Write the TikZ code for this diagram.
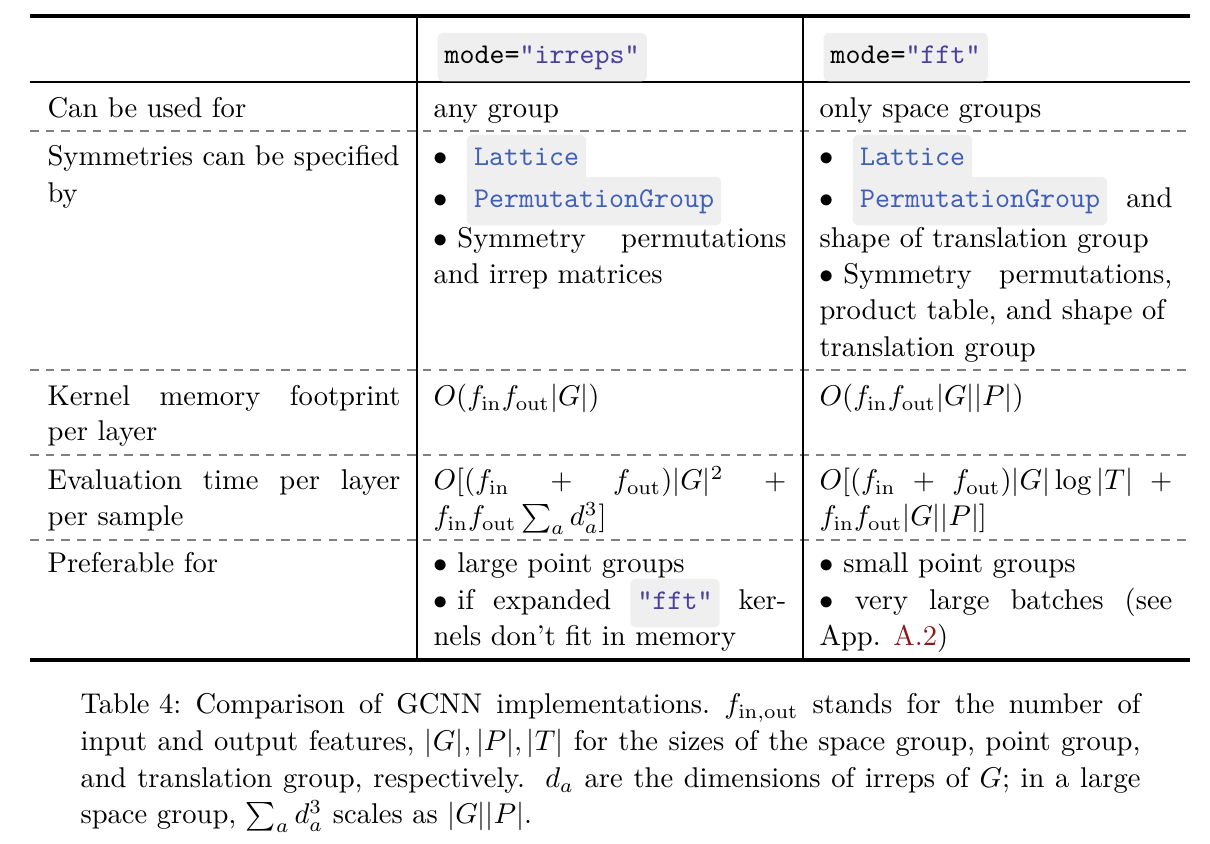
\documentclass[tikz,border=0pt]{standalone}
\usepackage{xcolor}
\definecolor{codebg}{HTML}{EFEFEF}
\definecolor{strc}{HTML}{4A3F9A}
\definecolor{clsc}{HTML}{4060B8}
\definecolor{refc}{HTML}{8B1A1A}
\newcommand\codebx[1]{\tikz[baseline=(cbx.base)]\node[fill=codebg,rounded corners=2pt,inner xsep=2.5pt,inner ysep=2.5pt,outer sep=0pt] (cbx) {\ttfamily\strut #1};}
\begin{document}
\begin{tikzpicture}[x=0.35pt,y=-0.35pt,
  tl/.style={anchor=base west,inner sep=0pt,text width=123.5pt,align=left},
  cl/.style={anchor=base west,inner sep=0pt},
  thick rule/.style={line width=1.2pt},
  dash rule/.style={gray,dashed,line width=0.4pt,dash pattern=on 3pt off 2.5pt},
  vrule/.style={line width=0.4pt}]
\useasboundingbox (0,0) rectangle (1210,844);
\draw[thick rule] (30,16) -- (1190,16);
\draw[line width=0.8pt] (30,82) -- (1190,82);
\draw[thick rule] (30,660) -- (1190,660);
\foreach \y in {131,370,455,540} \draw[dash rule] (30,\y) -- (1190,\y);
\draw[vrule] (417,16) -- (417,660);
\draw[vrule] (803,16) -- (803,660);
\begin{scope}[yshift=-0.7pt]
% header
\node[cl] (h2) at (437,62) {\codebx{mode=\textcolor{strc}{"irreps"}}};
\node[cl] (h3) at (823,62) {\codebx{mode=\textcolor{strc}{"fft"}}};
% row 1
\node[cl] (a1) at (47,116) {Can be used for};
\node[cl] (b1) at (433,116) {any group};
\node[cl] (c1) at (819,116) {only space groups};
% row 2
\node[cl] (a2a) at (47,164) {Symmetries can be specified};
\node[cl] (a2b) at (47,201) {by};
\node[cl] (b2a) at (433,164) {$\bullet$\ \ \codebx{\textcolor{clsc}{Lattice}}};
\node[cl] (b2b) at (433,206) {$\bullet$\ \ \codebx{\textcolor{clsc}{PermutationGroup}}};
\node[tl] (b2c) at (433,246) {$\bullet$\ Symmetry\hfill permutations};
\node[cl] (b2d) at (433,282) {and irrep matrices};
\node[cl] (c2a) at (819,164) {$\bullet$\ \ \codebx{\textcolor{clsc}{Lattice}}};
\node[tl] (c2b) at (819,206) {$\bullet$\ \ \codebx{\textcolor{clsc}{PermutationGroup}}\hfill and};
\node[cl] (c2c) at (819,246) {shape of translation group};
\node[tl] (c2d) at (819,282) {$\bullet$\ Symmetry\hfill permutations,};
\node[tl] (c2e) at (819,318) {product table, and shape of};
\node[cl] (c2f) at (819,355) {translation group};
% row 3
\node[tl] (a3a) at (47,404) {Kernel\hfill memory\hfill footprint};
\node[cl] (a3b) at (47,439) {per layer};
\node[cl] (b3) at (433,404) {$O(f_{\mathrm{in}}f_{\mathrm{out}}|G|)$};
\node[cl] (c3) at (819,404) {$O(f_{\mathrm{in}}f_{\mathrm{out}}|G||P|)$};
% row 4
\node[tl] (a4a) at (47,488) {Evaluation\hfill time\hfill per\hfill layer};
\node[cl] (a4b) at (47,524) {per sample};
\node[tl] (b4a) at (433,488) {$O[(f_{\mathrm{in}}$\hfill$+$\hfill$f_{\mathrm{out}})|G|^2$\hfill$+$};
\node[cl] (b4b) at (433,524) {$f_{\mathrm{in}}f_{\mathrm{out}}\sum_a d_a^3]$};
\node[tl] (c4a) at (819,488) {$O[(f_{\mathrm{in}}$\hfill$+$\hfill$f_{\mathrm{out}})|G|\log|T|$\hfill$+$};
\node[cl] (c4b) at (819,524) {$f_{\mathrm{in}}f_{\mathrm{out}}|G||P|]$};
% row 5
\node[cl] (a5) at (47,571) {Preferable for};
\node[cl] (b5a) at (433,571) {$\bullet$ large point groups};
\node[tl] (b5b) at (433,608) {$\bullet$\ if\hfill expanded\hfill\codebx{\textcolor{strc}{"fft"}}\hfill ker-};
\node[cl] (b5c) at (433,644) {nels don't fit in memory};
\node[cl] (c5a) at (819,571) {$\bullet$ small point groups};
\node[tl] (c5b) at (819,608) {$\bullet$\hfill very\hfill large\hfill batches\hfill (see};
\node[cl] (c5c) at (819,644) {App. \textcolor{refc}{A.2})};
% caption
\node[anchor=base west,inner sep=0pt,text width=371pt,align=left] (cap1) at (80,712) {Table 4:\hfill Comparison\hfill of\hfill GCNN\hfill implementations.\hfill $f_{\mathrm{in,out}}$\hfill stands\hfill for\hfill the\hfill number\hfill of};
\node[anchor=base west,inner sep=0pt,text width=371pt,align=left] (cap2) at (80,749) {input\hfill and\hfill output\hfill features,\hfill $|G|,|P|,|T|$\hfill for\hfill the\hfill sizes\hfill of\hfill the\hfill space\hfill group,\hfill point\hfill group,};
\node[anchor=base west,inner sep=0pt,text width=371pt,align=left] (cap3) at (80,786) {and\hfill translation\hfill group,\hfill respectively.\hfill\ $d_a$\hfill are\hfill the\hfill dimensions\hfill of\hfill irreps\hfill of\hfill $G$;\hfill in\hfill a\hfill large};
\node[cl] (cap4) at (80,822) {space group, $\sum_a d_a^3$ scales as $|G||P|$.};
\end{scope}
\end{tikzpicture}
\end{document}
